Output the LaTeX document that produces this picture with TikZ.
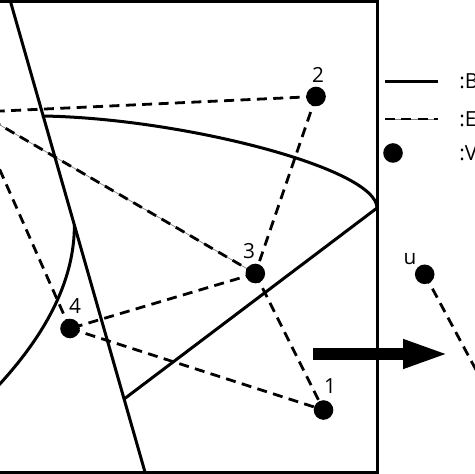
\documentclass[tikz,border=0pt]{standalone}
\usepackage{fontspec}
\setmainfont{Open Sans}
\usetikzlibrary{arrows.meta}
\begin{document}
\begin{tikzpicture}[x=0.5pt,y=-0.5pt,
 bnd/.style={line width=1.5pt},
 edg/.style={line width=1.4pt, dash pattern=on 5pt off 3.2pt},
 ghost/.style={gray, line width=0.35pt},
 vtx/.style={circle, fill=black, inner sep=0pt, minimum size=9.8pt},
 lbl/.style={inner sep=0pt, font=\fontsize{10.4}{12}\selectfont},
]
\useasboundingbox (0,0) rectangle (474,474);
% frame
\draw[line width=1.9pt] (-20,1.5) rectangle (377.5,472.5);
% boundaries
\coordinate (L1) at (8.6,-5);
\coordinate (L2) at (146.1,476);
\coordinate (C1) at (42,116);
\coordinate (C2) at (377,208);
\coordinate (D1) at (124.1,399);
\coordinate (K1) at (74.4,225);
\coordinate (K2) at (-2,386);
\draw[bnd] (L1) -- (L2);
\draw[bnd] (C1) .. controls (180,118) and (377,168) .. (C2);
\draw[bnd] (C2) -- (D1);
\draw[bnd] (K1) .. controls (74.4,278) and (48.7,331) .. (K2);
% vertices positions
\coordinate (p1) at (323.5,410);
\coordinate (p2) at (316,96.5);
\coordinate (p3) at (255.3,273.5);
\coordinate (p4) at (70,328.5);
\coordinate (pu) at (424.7,274.3);
\coordinate (e2) at (-20,112);
\coordinate (e3) at (-20,113.4);
\coordinate (e4) at (-20,125);
\coordinate (eu) at (490,396);
% edges
\draw[ghost] (p3) -- (e3);
\draw[edg] (p2) -- (e2);
\draw[edg] (p3) -- (e3);
\draw[edg] (p4) -- (e4);
\draw[edg] (p2) -- (p3);
\draw[edg] (p3) -- (p4);
\draw[edg] (p3) -- (p1);
\draw[edg] (p4) -- (p1);
\draw[edg] (pu) -- (eu);
% vertices
\node[vtx] (v1) at (p1) {};
\node[vtx] (v2) at (p2) {};
\node[vtx] (v3) at (p3) {};
\node[vtx] (v4) at (p4) {};
\node[vtx] (vu) at (pu) {};
% labels
\node[lbl] (t1) at (330,386) {1};
\node[lbl] (t2) at (318,75) {2};
\node[lbl] (t3) at (249,251) {3};
\node[lbl] (t4) at (75,306) {4};
\node[lbl] (tu) at (410,259.5) {u};
% arrow
\coordinate (a1) at (313,354);
\coordinate (a2) at (450,354);
\draw[line width=6pt, -{Triangle[width=13pt,length=23.5pt]}] (a1) -- (a2);
% legend
\coordinate (g1) at (385,81.5);
\coordinate (g2) at (438,81.5);
\coordinate (g3) at (385,119);
\coordinate (g4) at (438,119);
\draw[bnd] (g1) -- (g2);
\draw[ghost] (g3) -- (g4);
\draw[edg] (g3) -- (g4);
\node[vtx] (gv) at (393,153) {};
\node[lbl, anchor=west] (tb) at (459,81.5) {:B};
\node[lbl, anchor=west] (te) at (459,119) {:E};
\node[lbl, anchor=west] (tv) at (459,153) {:V};
\end{tikzpicture}
\end{document}
